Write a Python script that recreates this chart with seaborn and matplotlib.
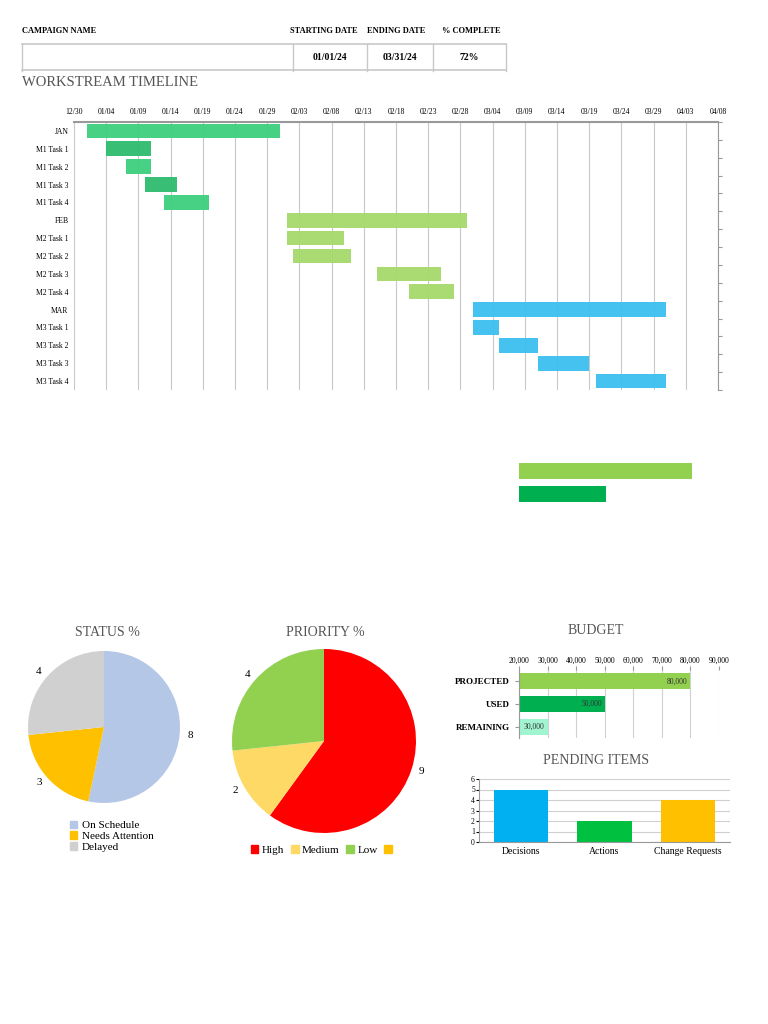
import matplotlib
matplotlib.use("Agg")
import matplotlib.pyplot as plt
import matplotlib.dates as mdates
import seaborn as sns
import pandas as pd
import numpy as np
from datetime import datetime

plt.rcParams["font.family"] = "Liberation Serif"

header_labels = ["CAMPAIGN NAME", "STARTING DATE", "ENDING DATE", "% COMPLETE"]
header_values = ["", "01/01/24", "03/31/24", "72%"]

tasks = ["JAN", "M1 Task 1", "M1 Task 2", "M1 Task 3", "M1 Task 4",
         "FEB", "M2 Task 1", "M2 Task 2", "M2 Task 3", "M2 Task 4",
         "MAR", "M3 Task 1", "M3 Task 2", "M3 Task 3", "M3 Task 4"]
starts = ["2024-01-01", "2024-01-04", "2024-01-07", "2024-01-10", "2024-01-13",
          "2024-02-01", "2024-02-01", "2024-02-02", "2024-02-15", "2024-02-20",
          "2024-03-01", "2024-03-01", "2024-03-05", "2024-03-11", "2024-03-20"]
ends = ["2024-01-31", "2024-01-11", "2024-01-11", "2024-01-15", "2024-01-20",
        "2024-02-29", "2024-02-10", "2024-02-11", "2024-02-25", "2024-02-27",
        "2024-03-31", "2024-03-05", "2024-03-11", "2024-03-19", "2024-03-31"]
task_colors = ["#3ccf7e", "#2dbb6e", "#3ccf7e", "#2dbb6e", "#3ccf7e",
               "#a6d96a", "#a6d96a", "#a6d96a", "#a6d96a", "#a6d96a",
               "#3bbff0", "#3bbff0", "#3bbff0", "#3bbff0", "#3bbff0"]

status_labels = ["On Schedule", "Needs Attention", "Delayed"]
status_values = [8, 3, 4]
status_colors = ["#b4c7e7", "#ffc000", "#d0d0d0"]

priority_labels = ["High", "Medium", "Low", ""]
priority_values = [9, 2, 4, 0]
priority_colors = ["#ff0000", "#ffd966", "#92d050", "#ffc000"]

budget_labels = ["PROJECTED", "USED", "REMAINING"]
budget_values = [80000, 50000, 30000]
budget_colors = ["#92d050", "#00b050", "#a0f5d0"]

pending_labels = ["Decisions", "Actions", "Change Requests"]
pending_values = [5, 2, 4]
pending_colors = ["#00b0f0", "#00c040", "#ffc000"]

W, H = 768, 1024
fig = plt.figure(figsize=(7.68, 10.24), dpi=100)

def rect(l, t, r, b):
    return [l / W, 1 - b / H, (r - l) / W, (b - t) / H]

def fx(x): return x / W
def fy(y): return 1 - y / H

# header
for txt, x in zip(header_labels, [22, 290, 367, 442]):
    fig.text(fx(x), fy(31), txt, fontsize=6, fontweight="bold", va="center")
lc = "#c8c8c8"
fig.add_artist(plt.Line2D([fx(22), fx(506)], [fy(44), fy(44)], color=lc, lw=1.2))
fig.add_artist(plt.Line2D([fx(22), fx(506)], [fy(70), fy(70)], color=lc, lw=1.2))
for x in [22, 293, 367, 433, 506]:
    fig.add_artist(plt.Line2D([fx(x), fx(x)], [fy(44), fy(71)], color=lc, lw=1))
for txt, x in zip(header_values[1:], [330, 400, 469]):
    fig.text(fx(x), fy(57), txt, fontsize=7, fontweight="bold", ha="center", va="center")
fig.text(fx(22), fy(82), "WORKSTREAM TIMELINE", fontsize=10.5, color="#555555", va="center")

# gantt
ax = fig.add_axes(rect(74, 122, 718, 390))
s = pd.to_datetime(starts)
e = pd.to_datetime(ends)
y = np.arange(len(tasks))
ax.barh(y, mdates.date2num(e) - mdates.date2num(s), left=mdates.date2num(s),
        color=task_colors, height=0.82, alpha=0.95)
x0 = mdates.date2num(datetime(2023, 12, 30))
ticks = [x0 + 5 * i for i in range(21)]
ax.set_xlim(ticks[0], ticks[-1])
ax.set_xticks(ticks)
ax.xaxis.set_major_formatter(mdates.DateFormatter("%m/%d"))
ax.xaxis.tick_top()
ax.set_ylim(len(tasks) - 0.5, -0.5)
ax.set_yticks(y)
ax.set_yticklabels(tasks)
ax.tick_params(axis="both", labelsize=5.5, length=0, pad=4)
ax.grid(axis="x", color="#c8c8c8", lw=0.8)
ax.set_axisbelow(True)
for sp in ["left", "bottom"]:
    ax.spines[sp].set_visible(False)
ax.spines["top"].set_color("#999999")
ax.spines["top"].set_linewidth(1.5)
ax.spines["right"].set_color("#999999")
ax2 = ax.twinx()
ax2.set_ylim(ax.get_ylim())
ax2.set_yticks(np.arange(-0.5, len(tasks), 1))
ax2.set_yticklabels([])
ax2.tick_params(axis="y", length=3, color="#999999")
for sp in ax2.spines.values():
    sp.set_visible(False)

# floating budget bars
axf = fig.add_axes(rect(519, 460, 719, 505))
axf.barh([0, 1], budget_values[:2], color=budget_colors[:2], height=0.72)
axf.set_xlim(20000, 20000 + 60000 * 200 / 173)
axf.set_ylim(1.5, -0.5)
axf.axis("off")

# status pie
axs = fig.add_axes(rect(28, 651, 180, 803))
axs.pie(status_values, colors=status_colors, startangle=90, counterclock=False,
        labels=[str(v) for v in status_values], labeldistance=1.1,
        textprops={"fontsize": 8})
axs.set_xlim(-1, 1); axs.set_ylim(-1, 1)
fig.text(fx(107), fy(632), "STATUS %", fontsize=10, color="#555555", ha="center", va="center")
hs = [plt.Rectangle((0, 0), 1, 1, color=c) for c in status_colors]
fig.legend(hs, status_labels, loc="upper left", bbox_to_anchor=(fx(64), fy(815)),
           frameon=False, fontsize=8, handlelength=0.7, handleheight=0.7,
           labelspacing=0.1, handletextpad=0.4, borderpad=0)

# priority pie
axp = fig.add_axes(rect(232, 649, 416, 833))
axp.pie(priority_values, colors=priority_colors, startangle=90, counterclock=False,
        labels=[str(v) if v else "" for v in priority_values], labeldistance=1.08,
        textprops={"fontsize": 8})
axp.set_xlim(-1, 1); axp.set_ylim(-1, 1)
fig.text(fx(325), fy(632), "PRIORITY %", fontsize=10, color="#555555", ha="center", va="center")
hp = [plt.Rectangle((0, 0), 1, 1, color=c) for c in priority_colors]
fig.legend(hp, priority_labels, loc="center", bbox_to_anchor=(fx(323), fy(850)),
           frameon=False, fontsize=8, ncol=4, handlelength=0.7, handleheight=0.7,
           columnspacing=0.6, handletextpad=0.3, borderpad=0)

# budget
axb = fig.add_axes(rect(519, 670, 719, 738))
bdf = pd.DataFrame({"label": budget_labels, "value": budget_values})
sns.barplot(data=bdf, y="label", x="value", hue="label", palette=budget_colors,
            legend=False, ax=axb, width=0.72, saturation=1)
axb.set_xlim(20000, 90000)
axb.set_xticks(range(20000, 90001, 10000))
axb.set_xticklabels([f"{v:,}" for v in range(20000, 90001, 10000)])
axb.xaxis.tick_top()
axb.set_xlabel(""); axb.set_ylabel("")
axb.tick_params(axis="x", labelsize=5.5, length=3, color="#999999", pad=1)
axb.tick_params(axis="y", labelsize=6.5, length=3, color="#999999")
for t in axb.get_yticklabels():
    t.set_fontweight("bold")
axb.grid(axis="x", color="#d0d0d0", lw=0.8)
axb.set_axisbelow(True)
for sp in ["top", "right", "bottom"]:
    axb.spines[sp].set_visible(False)
axb.spines["left"].set_color("#999999")
for i, v in enumerate(budget_values):
    axb.text(v - 1000, i, f"{v:,}", ha="right", va="center", fontsize=5.5, color="#333333")
fig.text(fx(596), fy(630), "BUDGET", fontsize=10, color="#555555", ha="center", va="center")

# pending
axq = fig.add_axes(rect(479, 779, 730, 842))
pdf = pd.DataFrame({"label": pending_labels, "value": pending_values})
sns.barplot(data=pdf, x="label", y="value", hue="label", palette=pending_colors,
            legend=False, ax=axq, width=0.65, saturation=1)
axq.set_ylim(0, 6)
axq.set_yticks(range(7))
axq.set_xlabel(""); axq.set_ylabel("")
axq.tick_params(axis="y", labelsize=5.5, length=2, pad=1)
axq.tick_params(axis="x", labelsize=7, length=0)
axq.grid(axis="y", color="#d0d0d0", lw=0.8)
axq.set_axisbelow(True)
for sp in ["top", "right"]:
    axq.spines[sp].set_visible(False)
for sp in ["left", "bottom"]:
    axq.spines[sp].set_color("#999999")
fig.text(fx(596), fy(761), "PENDING ITEMS", fontsize=10, color="#555555", ha="center", va="center")

fig.savefig("out.png", dpi=100, facecolor="white")
